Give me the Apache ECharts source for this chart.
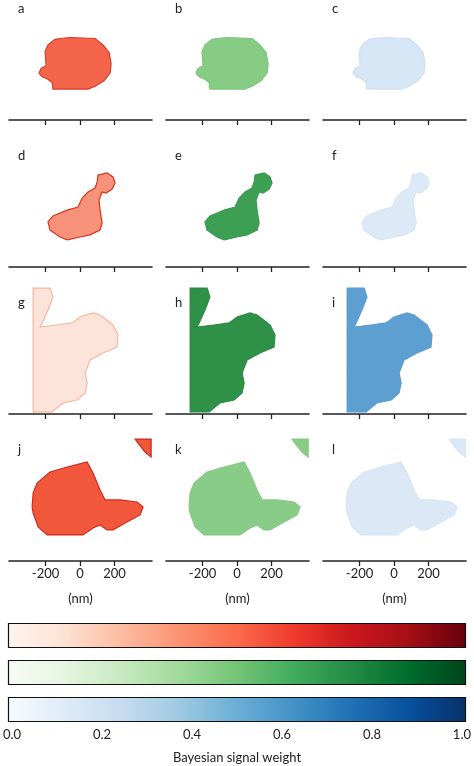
<!DOCTYPE html>
<html><head><meta charset="utf-8">
<script src="https://cdn.jsdelivr.net/npm/echarts@6/dist/echarts.min.js"></script>
<style>html,body{margin:0;padding:0;background:#fff}#c{width:474px;height:766px}</style>
</head><body><div id="c"></div>
<script>
// Shape outlines (nm), one per row
const shapeRow1 = [[-116,504],[-58,510],[87,504],[133,464],[168,417],[180,348],[174,290],[139,243],[87,209],[46,191],[-157,191],[-162,232],[-191,255],[-220,267],[-238,290],[-226,319],[-197,336],[-203,423],[-186,464],[-145,499]];
const shapeRow2 = [[104,533],[157,545],[191,522],[203,487],[186,452],[151,429],[128,435],[110,388],[116,330],[128,255],[116,214],[58,186],[0,174],[-75,157],[-116,174],[-174,214],[-186,261],[-157,296],[-75,330],[-12,348],[12,400],[46,435],[87,458],[99,493]];
const shapeRow3 = [[-272,730],[-174,730],[-157,678],[-186,603],[-220,528],[-232,504],[-133,516],[-46,528],[0,562],[75,586],[116,574],[191,516],[220,458],[214,388],[133,354],[58,313],[29,238],[41,180],[29,122],[-17,81],[-99,64],[-128,41],[-162,12],[-272,12]];
const shapeRow4a = [[-272,394],[-249,452],[-174,516],[-75,545],[41,574],[75,510],[116,412],[145,354],[232,354],[330,342],[365,313],[348,267],[272,226],[191,180],[157,180],[116,209],[75,191],[17,151],[-191,151],[-243,197],[-272,278],[-278,313]];
const shapeRow4b = [[319,707],[412,707],[412,603],[377,632],[348,667]];
const rowShapes = [[shapeRow1],[shapeRow2],[shapeRow3],[shapeRow4a,shapeRow4b]];
const panelLetters = ['a','b','c','d','e','f','g','h','i','j','k','l'];
const panelFill = ['#f4654c','#86cc85','#d6e6f4','#f7927a','#3c9f54','#dce9f6','#fde4da','#2e9147','#5d9fd1','#f1573b','#88cc88','#dbe8f6'];
const panelEdge = ['#d93a26','#7cc47c','#cfe0f1','#d8341f','#3a9a50','#d6e5f3','#f6b7a0','#2a8a42','#5a9ccf','#cf2a1f','#84c984','#d6e5f3'];
const xTicks = [-200,0,200];
const reds = ['#fff5f0','#fee0d2','#fcbba1','#fc9272','#fb6a4a','#ef3b2c','#cb181d','#a50f15','#67000d'];
const greens = ['#f7fcf5','#e5f5e0','#c7e9c0','#a1d99b','#74c476','#41ab5d','#238b45','#006d2c','#00441b'];
const blues = ['#f7fbff','#deebf7','#c6dbef','#9ecae1','#6baed6','#4292c6','#2171b5','#08519c','#08306b'];

const font = 'Lato';
const lefts = [9,166,323], axisYs = [120,267,414,561];
const grids = [], xAxes = [], yAxes = [], series = [], graphics = [];
for (let r=0;r<4;r++) for (let c=0;c<3;c++){
  const i = r*3+c;
  grids.push({left:lefts[c], top:axisYs[r]-128, width:143, height:128});
  xAxes.push({gridIndex:i, type:'value', min:-412, max:417,
    axisLine:{show:true, lineStyle:{color:'#222', width:1.6}},
    axisTick:{show:true, customValues:xTicks, length:5, lineStyle:{color:'#222',width:1.3}},
    axisLabel:{show:r===3, customValues:xTicks, color:'#222', fontSize:13, fontFamily:font, margin:6},
    splitLine:{show:false},
    name: r===3?'(nm)':'', nameLocation:'middle', nameGap:31, nameTextStyle:{color:'#222',fontSize:13,fontFamily:font}});
  yAxes.push({gridIndex:i, type:'value', min:0, max:742, show:false});
  const shapes = rowShapes[r];
  series.push({type:'custom', xAxisIndex:i, yAxisIndex:i, data:shapes.map((s,k)=>[k]),
    renderItem:(params, api)=>{
      const pts = shapes[params.dataIndex].map(p=>api.coord(p));
      return {type:'polygon', shape:{points:pts}, style:{fill:panelFill[i], stroke:panelEdge[i], lineWidth:1.2}};
    }, silent:true});
  graphics.push({type:'text', left:lefts[c]+9, top:axisYs[r]-128+10, z:10, style:{text:panelLetters[i], fill:'#222', font:'13px '+font}});
}
const cbTops = [623,660,697];
[reds,greens,blues].forEach((cm,k)=>{
  graphics.push({type:'rect', shape:{x:8.5,y:cbTops[k]+0.5,width:457,height:24},
    style:{fill:new echarts.graphic.LinearGradient(0,0,1,0,cm.map((col,j)=>({offset:j/(cm.length-1),color:col}))), stroke:'#111', lineWidth:1.2}});
});
grids.push({left:8.5, top:697.5, width:457, height:24});
xAxes.push({gridIndex:12, type:'value', min:0, max:1, interval:0.2,
  axisLine:{show:false}, axisTick:{show:false},
  axisLabel:{formatter:v=>v.toFixed(1), color:'#222', fontSize:13, fontFamily:font, margin:7},
  splitLine:{show:false}, name:'Bayesian signal weight', nameLocation:'middle', nameGap:30,
  nameTextStyle:{color:'#222',fontSize:13,fontFamily:font}});
yAxes.push({gridIndex:12, type:'value', show:false});
const chart = echarts.init(document.getElementById('c'));
chart.setOption({animation:false, grid:grids, xAxis:xAxes, yAxis:yAxes, series:series, graphic:graphics});
</script></body></html>
